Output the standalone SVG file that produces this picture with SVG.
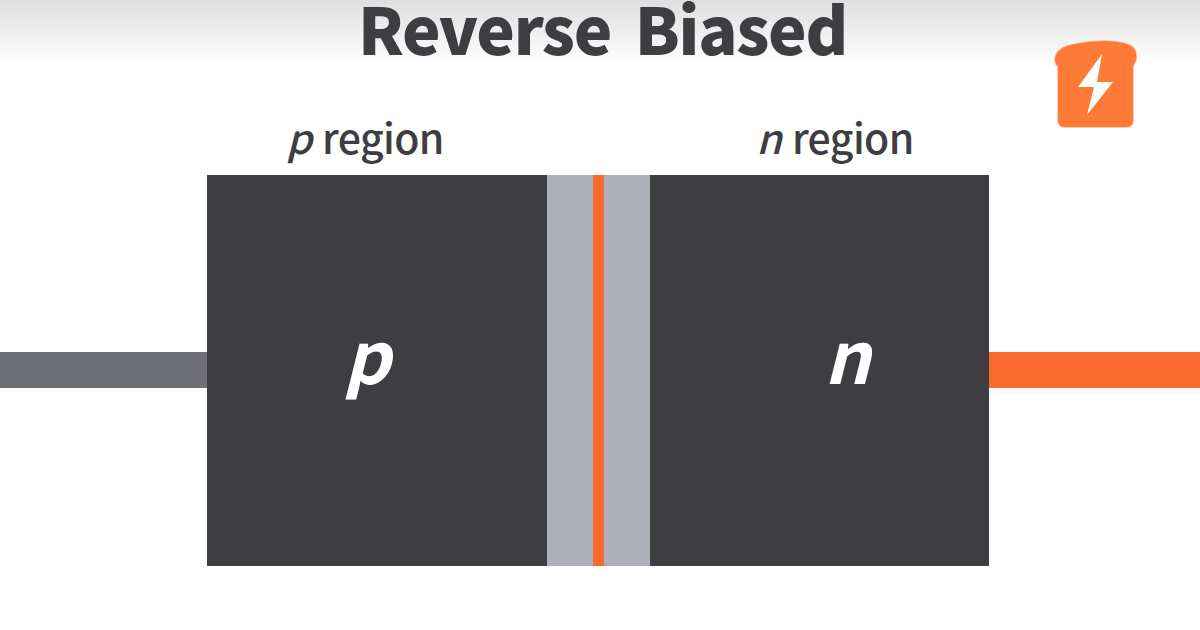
<svg xmlns="http://www.w3.org/2000/svg" width="1200" height="630" viewBox="0 0 1200 630">
<defs>
<linearGradient id="top" x1="0" y1="0" x2="0" y2="1"><stop offset="0" stop-color="#dedede"/><stop offset="1" stop-color="#ffffff"/></linearGradient>
</defs>
<style>
.t{font-family:"Noto Sans CJK KR","Noto Sans",sans-serif;fill:#3e3d42}
.lab{font-size:41px;font-weight:500;letter-spacing:-.6px;word-spacing:2px}
.big{font-size:72px;font-weight:700;font-style:italic;fill:#fff}
</style>
<rect width="1200" height="630" fill="#fff"/>
<rect width="1200" height="66" fill="url(#top)"/>
<text id="title" class="t" x="602.500" y="55" text-anchor="middle" font-size="65" font-weight="900" letter-spacing="-1.300" word-spacing="10">Reverse Biased</text>
<g id="logo">
<path d="M1054 60C1054 50 1063 45 1075 43C1094 39 1116 39 1127 43C1137 46 1138 54 1137 60C1136 64 1134 65 1134 67V120Q1134 128 1126 128H1065Q1057 128 1057 120V67C1055 65 1054 63 1054 60Z" fill="#fd7b37" stroke="#fff" stroke-opacity=".6" stroke-width="2"/>
<path d="M1102 54L1078 87H1094L1087 115L1113 82H1097Z" fill="#fff"/>
</g>
<g id="connectors">
<rect id="wire-left" x="0" y="352" width="207" height="36" fill="#6e6f74"/>
<rect id="wire-right" x="989" y="352" width="211" height="36" fill="#f96a2f"/>
</g>
<g id="p-region">
<rect x="207" y="175" width="340" height="391" fill="#3e3d42"/>
<text class="t lab" x="365" y="154" text-anchor="middle"><tspan font-style="italic">p</tspan> region</text>
<text class="t big" x="367" y="384" text-anchor="middle">p</text>
</g>
<g id="depletion">
<rect x="547" y="175" width="103" height="391" fill="#adb0b9"/>
<rect x="593" y="175" width="11" height="391" fill="#f96a2f"/>
</g>
<g id="n-region">
<rect x="650" y="175" width="339" height="391" fill="#3e3d42"/>
<text class="t lab" x="835" y="154" text-anchor="middle"><tspan font-style="italic">n</tspan> region</text>
<text class="t big" x="847" y="384" text-anchor="middle">n</text>
</g>
</svg>
